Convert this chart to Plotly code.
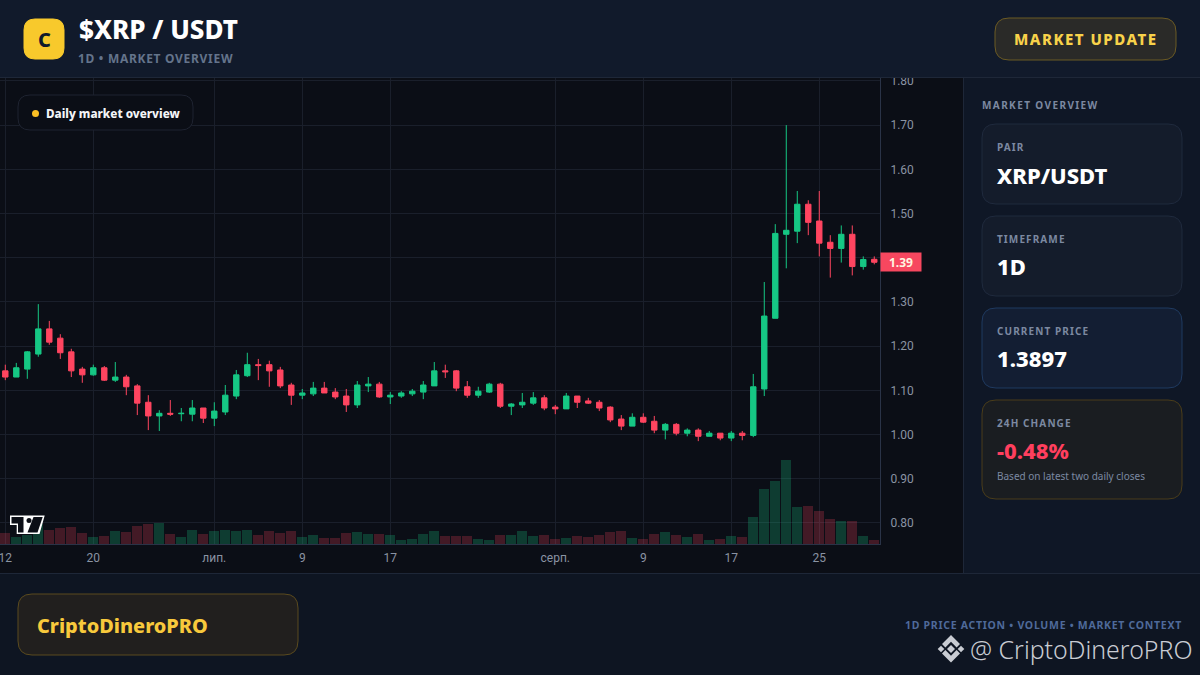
import pandas as pd
import plotly.graph_objects as go

dates = pd.date_range("2025-06-12", periods=80, freq="D")

opens = [1.144, 1.130, 1.148, 1.182, 1.239, 1.218, 1.187, 1.148, 1.135, 1.151,
         1.123, 1.130, 1.110, 1.073, 1.042, 1.048, 1.047, 1.046, 1.060, 1.037,
         1.051, 1.087, 1.133, 1.158, 1.158, 1.146, 1.112, 1.089, 1.092, 1.105,
         1.096, 1.087, 1.067, 1.110, 1.114, 1.085, 1.087, 1.092, 1.096, 1.110,
         1.144, 1.144, 1.108, 1.089, 1.096, 1.114, 1.064, 1.067, 1.071, 1.083,
         1.062, 1.058, 1.087, 1.076, 1.073, 1.062, 1.035, 1.019, 1.039, 1.030,
         1.010, 1.023, 1.003, 1.010, 0.996, 1.003, 0.992, 1.003, 0.998, 1.103,
         1.263, 1.453, 1.460, 1.521, 1.483, 1.435, 1.421, 1.453, 1.380, 1.3964]
highs = [1.158, 1.162, 1.189, 1.295, 1.257, 1.227, 1.194, 1.153, 1.158, 1.155,
         1.164, 1.135, 1.114, 1.089, 1.055, 1.078, 1.060, 1.078, 1.060, 1.073,
         1.112, 1.146, 1.185, 1.171, 1.167, 1.153, 1.117, 1.103, 1.119, 1.119,
         1.105, 1.103, 1.121, 1.130, 1.119, 1.096, 1.098, 1.103, 1.121, 1.164,
         1.158, 1.146, 1.121, 1.108, 1.117, 1.117, 1.071, 1.094, 1.096, 1.089,
         1.067, 1.094, 1.087, 1.083, 1.078, 1.064, 1.044, 1.048, 1.048, 1.042,
         1.026, 1.026, 1.014, 1.014, 1.008, 1.003, 1.008, 1.008, 1.137, 1.345,
         1.476, 1.700, 1.551, 1.530, 1.551, 1.451, 1.473, 1.473, 1.403, 1.403]
lows = [1.123, 1.130, 1.126, 1.176, 1.203, 1.171, 1.130, 1.117, 1.133, 1.121,
        1.119, 1.089, 1.044, 1.010, 1.008, 1.042, 1.030, 1.030, 1.026, 1.019,
        1.044, 1.080, 1.130, 1.123, 1.108, 1.105, 1.067, 1.080, 1.087, 1.094,
        1.080, 1.051, 1.060, 1.096, 1.083, 1.069, 1.083, 1.087, 1.080, 1.110,
        1.128, 1.098, 1.083, 1.083, 1.094, 1.060, 1.044, 1.060, 1.067, 1.055,
        1.046, 1.058, 1.060, 1.069, 1.053, 1.028, 1.010, 1.019, 1.026, 1.003,
        0.989, 0.998, 0.996, 0.985, 0.996, 0.987, 0.985, 0.987, 0.994, 1.087,
        1.263, 1.376, 1.433, 1.451, 1.403, 1.355, 1.389, 1.360, 1.373, 1.385]
closes = [1.130, 1.151, 1.187, 1.239, 1.209, 1.185, 1.144, 1.135, 1.151, 1.123,
          1.130, 1.108, 1.071, 1.042, 1.048, 1.046, 1.048, 1.060, 1.037, 1.053,
          1.089, 1.135, 1.158, 1.156, 1.144, 1.110, 1.089, 1.094, 1.105, 1.094,
          1.085, 1.067, 1.112, 1.114, 1.085, 1.089, 1.094, 1.098, 1.112, 1.144,
          1.142, 1.105, 1.089, 1.098, 1.114, 1.064, 1.069, 1.073, 1.083, 1.060,
          1.058, 1.087, 1.073, 1.071, 1.060, 1.033, 1.019, 1.039, 1.028, 1.010,
          1.023, 1.003, 1.010, 0.996, 1.003, 0.992, 1.003, 0.998, 1.108, 1.268,
          1.455, 1.462, 1.521, 1.480, 1.433, 1.421, 1.453, 1.380, 1.396, 1.3897]
volumes = [33, 21, 27, 60, 42, 48, 51, 33, 21, 24,
           39, 36, 54, 60, 63, 30, 21, 42, 30, 39,
           42, 39, 42, 27, 39, 33, 39, 21, 27, 18,
           18, 33, 36, 30, 30, 27, 12, 15, 30, 39,
           24, 24, 24, 15, 12, 27, 27, 39, 24, 27,
           15, 18, 24, 21, 27, 36, 39, 18, 15, 30,
           36, 27, 21, 30, 12, 15, 24, 21, 81, 165,
           189, 252, 111, 114, 99, 75, 69, 69, 24, 12]

price_ticks = [0.80, 0.90, 1.00, 1.10, 1.20, 1.30, 1.40, 1.50, 1.60, 1.70, 1.80]
date_tick_pos = [0, 8, 19, 27, 35, 50, 58, 66, 74]
date_tick_text = ["12", "20", "лип.", "9", "17", "серп.", "9", "17", "25"]

GREEN = "#16c784"
RED = "#ff4560"
FONT = "Noto Sans"


def px(x):
    return x / 1200


def py(y):
    return 1 - y / 675


def round_rect(x0, y0, x1, y1, r, fill, line, layer="below"):
    p = (f"M {px(x0 + r)},{py(y0)} L {px(x1 - r)},{py(y0)} Q {px(x1)},{py(y0)} {px(x1)},{py(y0 + r)} "
         f"L {px(x1)},{py(y1 - r)} Q {px(x1)},{py(y1)} {px(x1 - r)},{py(y1)} "
         f"L {px(x0 + r)},{py(y1)} Q {px(x0)},{py(y1)} {px(x0)},{py(y1 - r)} "
         f"L {px(x0)},{py(y0 + r)} Q {px(x0)},{py(y0)} {px(x0 + r)},{py(y0)} Z")
    return dict(type="path", xref="paper", yref="paper", path=p, fillcolor=fill,
                line=dict(color=line, width=1), layer=layer)


def rect(x0, y0, x1, y1, fill, layer="below"):
    return dict(type="rect", xref="paper", yref="paper", x0=px(x0), x1=px(x1), y0=py(y0), y1=py(y1),
                fillcolor=fill, line=dict(width=0), layer=layer)


def poly(points, fill, layer="above"):
    p = "M " + " L ".join(f"{px(x)},{py(y)}" for x, y in points) + " Z"
    return dict(type="path", xref="paper", yref="paper", path=p, fillcolor=fill,
                line=dict(width=0), layer=layer)


def label(x, y, text, size, color, weight=400, spacing=0, anchor="left", family=FONT):
    if spacing:
        text = f'<span style="letter-spacing:{spacing}px">{text}</span>'
    return dict(xref="paper", yref="paper", x=px(x), y=py(y), text=text, showarrow=False,
                xanchor=anchor, yanchor="middle", borderpad=0, borderwidth=0,
                font=dict(family=family, size=size, color=color, weight=weight))


up = [c >= o for o, c in zip(opens, closes)]
vol_colors = ["rgba(22,199,132,0.25)" if u else "rgba(255,69,96,0.23)" for u in up]

fig = go.Figure()
fig.add_trace(go.Bar(x=dates, y=volumes, yaxis="y2", marker_color=vol_colors, marker_line_width=0,
                     width=86400000 * 0.91, hoverinfo="skip"))
fig.add_trace(go.Candlestick(x=dates, open=opens, high=highs, low=lows, close=closes,
                             increasing=dict(line=dict(color=GREEN, width=1), fillcolor=GREEN),
                             decreasing=dict(line=dict(color=RED, width=1), fillcolor=RED)))

day = pd.Timedelta(days=1)

shapes = [
    # page panels
    rect(0, 0, 1200, 77, "#111a2b"),
    rect(964, 78, 1200, 573, "#0f1726"),
    rect(0, 574, 1200, 675, "#0e1522"),
    rect(963, 78, 964, 573, "#1e2738"),
    rect(0, 573, 1200, 574, "#1e2738"),
    round_rect(995, 18, 1176, 60, 14, "#2a2a28", "#6b5a24"),
    # side cards
    round_rect(982, 124, 1182, 204, 14, "#141c2b", "#1f2a3d"),
    round_rect(982, 216, 1182, 296, 14, "#141c2b", "#1f2a3d"),
    round_rect(982, 308, 1182, 388, 14, "#131e33", "#1f3a60"),
    round_rect(982, 400, 1182, 499, 14, "#1a1d21", "#4a3d1a"),
    # footer box
    round_rect(18, 594, 298, 655, 14, "#211f1e", "#5a4a1e"),
    # header on top so the 1.80 tick gets cut like in the screenshot
    rect(0, 0, 964, 77, "#111a2b", layer="above"),
    rect(0, 77, 1200, 78, "#1e2738", layer="above"),
    round_rect(24, 19, 64, 59, 11, "#f8c92c", "#f8c92c", layer="above"),
    # overview pill
    round_rect(18, 95, 193, 130, 12, "#0b0e16", "#1e2330", layer="above"),
    dict(type="circle", xref="paper", yref="paper", x0=px(32), x1=px(39), y0=py(110), y1=py(117),
         fillcolor="#fbbf24", line=dict(width=0), layer="above"),
    # tradingview mark
    poly([(10, 515.5), (44.7, 515.5), (39.5, 534), (16.7, 534), (16.7, 525), (10, 525)], "#ffffff"),
    poly([(11.5, 517), (23.5, 517), (23.5, 532.5), (18, 532.5), (18, 523.5), (11.5, 523.5)], "#0b0e16"),
    dict(type="circle", xref="paper", yref="paper", x0=px(26.5), x1=px(31.5), y0=py(518), y1=py(523),
         fillcolor="#0b0e16", line=dict(width=0), layer="above"),
    poly([(33.5, 517), (42.7, 517), (37.5, 532.5), (27.5, 532.5)], "#0b0e16"),
    # watermark diamonds
    poly([(951, 635), (960, 644), (956.6, 647.4), (951, 641.8), (945.4, 647.4), (942, 644)], "#c9ccd3"),
    poly([(951, 662.5), (960, 653.5), (956.6, 650.1), (951, 655.7), (945.4, 650.1), (942, 653.5)], "#c9ccd3"),
    poly([(951, 645), (955, 649), (951, 653), (947, 649)], "#c9ccd3"),
    poly([(941, 645.7), (944.3, 649), (941, 652.3), (937.7, 649)], "#c9ccd3"),
    poly([(961, 645.7), (964.3, 649), (961, 652.3), (957.7, 649)], "#c9ccd3"),
]

card_label = "#7c89a1"
annotations = [
    label(44, 39, "C", 20, "#111a2b", 800, anchor="center"),
    label(79, 28.5, "$XRP / USDT", 26, "#ffffff", 800),
    label(78, 59, "1D • MARKET OVERVIEW", 12, "#64748b", 700, 0.7),
    label(1085.5, 39, "MARKET UPDATE", 15, "#f8d24a", 800, 1.5, anchor="center"),
    label(46, 113, "Daily market overview", 11.7, "#f3f5f8", 800),
    label(982, 105, "MARKET OVERVIEW", 10, card_label, 700, 1.4),
    label(997, 147, "PAIR", 10, card_label, 700, 1.1),
    label(997, 175, "XRP/USDT", 22, "#ffffff", 800),
    label(997, 266, "TIMEFRAME", 10, card_label, 700, 1.1) | dict(y=py(239)),
    label(997, 266, "1D", 22, "#ffffff", 800),
    label(997, 331, "CURRENT PRICE", 10, card_label, 700, 1.1),
    label(997, 358, "1.3897", 22, "#ffffff", 800),
    label(997, 423, "24H CHANGE", 10, card_label, 700, 1.1),
    label(997, 450, "-0.48%", 22, "#ff3f5e", 800),
    label(997, 476, "Based on latest two daily closes", 10, "#7c89a1"),
    label(37, 625, "CriptoDineroPRO", 19.9, "#f8c93c", 800),
    label(1182, 625, "1D PRICE ACTION • VOLUME • MARKET CONTEXT", 10.5, "#4f6a9a", 700, 0.72, anchor="right"),
    label(970, 649, "@ CriptoDineroPRO", 24.9, "#c9ccd3", 300),
    # last price tag sits on the price scale
    dict(xref="paper", yref="y", x=px(879.5), y=closes[-1], text="1.39", showarrow=False, xanchor="left",
         yanchor="middle", width=40, height=18, bgcolor="#f7475f", borderpad=0,
         font=dict(family=FONT, size=12, color="#fff5e0", weight=700)),
]

fig.update_layout(
    width=1200,
    height=675,
    margin=dict(l=0, r=0, t=0, b=0, autoexpand=False),
    paper_bgcolor="#0b0e16",
    plot_bgcolor="#0b0e16",
    showlegend=False,
    boxgap=0.3,
    bargap=0,
    shapes=shapes,
    annotations=annotations,
    xaxis=dict(
        domain=[0, px(880)],
        type="date",
        range=[dates[0] - 0.482 * day, dates[-1] + 0.52 * day],
        rangeslider=dict(visible=False),
        tickmode="array",
        tickvals=[dates[i] for i in date_tick_pos],
        ticktext=date_tick_text,
        tickangle=0,
        ticks="",
        tickfont=dict(family="Roboto", size=12, color="#8a93a3"),
        ticklabelstandoff=3,
        ticklabeloverflow="allow",
        showgrid=True,
        gridcolor="#1a1f2b",
        gridwidth=1,
        zeroline=False,
        showline=True,
        linecolor="#2a3347",
        linewidth=1,
    ),
    yaxis=dict(
        domain=[py(544), py(78)],
        range=[0.7523, 1.8066],
        side="right",
        tickmode="array",
        tickvals=price_ticks,
        ticktext=[f"{v:.2f}" for v in price_ticks],
        ticks="",
        tickfont=dict(family="Roboto", size=12, color="#8a93a3"),
        ticklabelstandoff=7,
        ticklabeloverflow="allow",
        showgrid=True,
        gridcolor="#1a1f2b",
        gridwidth=1,
        zeroline=False,
        showline=True,
        linecolor="#2a3347",
        linewidth=1,
    ),
    yaxis2=dict(
        domain=[py(544), py(78)],
        overlaying="y",
        range=[0, 1398],
        visible=False,
        fixedrange=True,
    ),
)

fig.write_html("out.html", config={"displayModeBar": False},
               post_script="document.body.style.margin='0';document.body.style.background='#0b0e16';")
